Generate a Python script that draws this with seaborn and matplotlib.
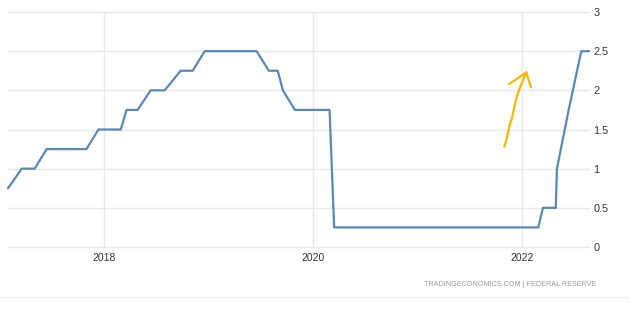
import matplotlib
matplotlib.use("Agg")
import matplotlib.pyplot as plt
from matplotlib.lines import Line2D
import pandas as pd
import seaborn as sns

# ---- data ----
dates = ["2017-01-31", "2017-03-20", "2017-05-04", "2017-06-15", "2017-11-01",
         "2017-12-13", "2018-03-01", "2018-03-21", "2018-04-29", "2018-06-13",
         "2018-08-01", "2018-09-26", "2018-11-07", "2018-12-19", "2019-06-18",
         "2019-07-31", "2019-08-31", "2019-09-18", "2019-10-30", "2020-02-28",
         "2020-03-15", "2022-02-26", "2022-03-14", "2022-04-28", "2022-05-02",
         "2022-06-12", "2022-07-26", "2022-08-22"]
rates = [0.75, 1.00, 1.00, 1.25, 1.25,
         1.50, 1.50, 1.75, 1.75, 2.00,
         2.00, 2.25, 2.25, 2.50, 2.50,
         2.25, 2.25, 2.00, 1.75, 1.75,
         0.25, 0.25, 0.50, 0.50, 1.00,
         1.75, 2.50, 2.50]

year_ticks = ["2018-01-01", "2020-01-01", "2022-01-01"]
year_labels = ["2018", "2020", "2022"]
y_ticks = [0, 0.5, 1, 1.5, 2, 2.5, 3]
y_labels = ["0", "0.5", "1", "1.5", "2", "2.5", "3"]

# hand-drawn yellow arrow annotation (date, value)
arrow_dates = ["2021-10-30", "2021-11-09", "2021-11-16", "2021-11-27",
               "2021-12-07", "2021-12-18", "2022-01-01", "2022-01-15"]
arrow_vals = [1.28, 1.40, 1.53, 1.66, 1.84, 1.98, 2.11, 2.23]
head_dates = ["2021-11-16", "2022-01-15", "2022-01-31"]
head_vals = [2.08, 2.23, 2.04]

source_text = "TRADINGECONOMICS.COM | FEDERAL RESERVE"

# ---- plot ----
sns.set_theme(style="white")
plt.rcParams["font.family"] = ["Liberation Sans", "DejaVu Sans"]

df = pd.DataFrame({"date": pd.to_datetime(dates), "rate": rates})

fig = plt.figure(figsize=(6.3, 3.1), dpi=100)
ax = fig.add_axes([8 / 630, 63 / 310, 581 / 630, 235 / 310])

grid_c = "#e9e9e9"
for v in y_ticks:
    ax.axhline(v, color=grid_c, lw=1.0, zorder=0, clip_on=False)
for d in year_ticks:
    ax.axvline(pd.Timestamp(d), color=grid_c, lw=1.0, zorder=0, clip_on=False)

sns.lineplot(data=df, x="date", y="rate", ax=ax, color="#5889b9",
             linewidth=1.6, clip_on=False, zorder=3)

ax.plot(pd.to_datetime(arrow_dates), arrow_vals, color="#f6b800", lw=1.6,
        solid_capstyle="round", solid_joinstyle="round", zorder=4)
ax.plot(pd.to_datetime(head_dates), head_vals, color="#f6b800", lw=1.6,
        solid_capstyle="round", solid_joinstyle="round", zorder=4)

ax.set_xlim(pd.Timestamp("2017-01-31"), pd.Timestamp("2022-08-22"))
ax.set_ylim(0, 3)
ax.set_xticks(pd.to_datetime(year_ticks))
ax.set_xticklabels(year_labels)
ax.set_yticks(y_ticks)
ax.set_yticklabels(y_labels)
ax.yaxis.tick_right()
ax.tick_params(axis="y", length=0, pad=3, labelsize=7.8, labelcolor="#333333")
ax.tick_params(axis="x", length=0, pad=4.5, labelsize=7.5, labelcolor="#333333")
ax.set_xlabel("")
ax.set_ylabel("")
for s in ax.spines.values():
    s.set_visible(False)
ax.grid(False)
ax.set_facecolor("none")

fig.text(597 / 630, 1 - 284 / 310, source_text, ha="right", va="center",
         fontsize=5.2, color="#999999")
fig.add_artist(Line2D([0, 1], [1 - 297 / 310] * 2, color="#f0f0f0", lw=1.0,
                      transform=fig.transFigure))

fig.savefig("out.png", dpi=100)
